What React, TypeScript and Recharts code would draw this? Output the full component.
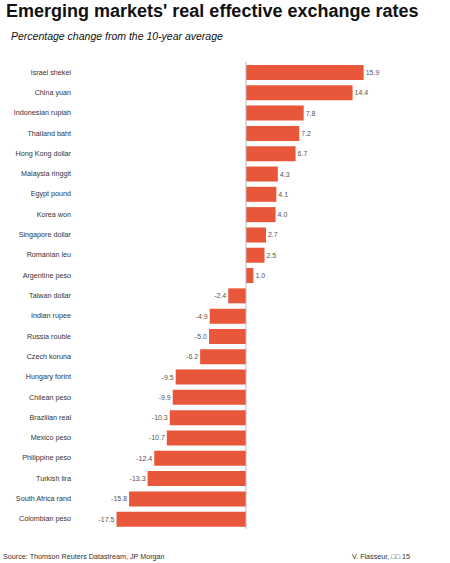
// Emerging markets' real effective exchange rates, horizontal bar chart

import { BarChart, Bar, XAxis, YAxis, ReferenceLine, LabelList } from 'recharts';

const CURRENCIES = [
  'Israel shekel',
  'China yuan',
  'Indonesian rupiah',
  'Thailand baht',
  'Hong Kong dollar',
  'Malaysia ringgit',
  'Egypt pound',
  'Korea won',
  'Singapore dollar',
  'Romanian leu',
  'Argentine peso',
  'Taiwan dollar',
  'Indian rupee',
  'Russia rouble',
  'Czech koruna',
  'Hungary forint',
  'Chilean peso',
  'Brazilian real',
  'Mexico peso',
  'Philippine peso',
  'Turkish lira',
  'South Africa rand',
  'Colombian peso',
];
const CHANGES = [
  15.9, 14.4, 7.8, 7.2, 6.7, 4.3, 4.1, 4.0, 2.7, 2.5, 1.0, -2.4, -4.9, -5.0, -6.2, -9.5, -9.9, -10.3, -10.7, -12.4,
  -13.3, -15.8, -17.5,
];

const BAR = '#e8573a';
const FONT = '"Liberation Sans", Arial, sans-serif';

const data = CURRENCIES.map((name, i) => ({ name, value: CHANGES[i] }));

function CategoryTick({ y, payload }: any) {
  return (
    <text x={71} y={y} textAnchor="end" dominantBaseline="central" fontSize={7.2} fill="#333" fontFamily={FONT}>
      {payload.value}
    </text>
  );
}

function ValueLabel({ x, y, width, height, value }: any) {
  const left = Math.min(x, x + width);
  const right = Math.max(x, x + width);
  const neg = value < 0;
  return (
    <text
      x={neg ? left - 2 : right + 2}
      y={y + height / 2}
      textAnchor={neg ? 'end' : 'start'}
      dominantBaseline="central"
      fontSize={7}
      fill="#555"
      fontFamily={FONT}
    >
      {Number(value).toFixed(1)}
    </text>
  );
}

export default function App() {
  return (
    <div style={{ position: 'fixed', top: 0, left: 0, width: 450, height: 563, background: '#fff', fontFamily: FONT }}>
      <div style={{ position: 'absolute', left: 6, top: 1, fontSize: 18, fontWeight: 'bold', color: '#111', whiteSpace: 'nowrap' }}>
        Emerging markets' real effective exchange rates
      </div>
      <div style={{ position: 'absolute', left: 11, top: 30, fontSize: 10.5, fontStyle: 'italic', color: '#111', whiteSpace: 'nowrap' }}>
        Percentage change from the 10-year average
      </div>
      <BarChart
        width={450}
        height={563}
        data={data}
        layout="vertical"
        margin={{ top: 62, right: 56, left: 0, bottom: 34 }}
      >
        <XAxis type="number" domain={[-20, 20]} hide />
        <YAxis type="category" dataKey="name" width={98} axisLine={false} tickLine={false} tick={<CategoryTick />} interval={0} />
        <Bar dataKey="value" fill={BAR} barSize={15} isAnimationActive={false}>
          <LabelList dataKey="value" content={<ValueLabel />} />
        </Bar>
        <ReferenceLine x={0} stroke="#bbb" strokeWidth={1} />
      </BarChart>
      <div style={{ position: 'absolute', left: 3, top: 552, fontSize: 7.2, color: '#333', whiteSpace: 'nowrap' }}>
        Source: Thomson Reuters Datastream, JP Morgan
      </div>
      <div style={{ position: 'absolute', left: 352, top: 552, fontSize: 7.2, color: '#333', whiteSpace: 'nowrap' }}>
        V. Flasseur, □□ 15
      </div>
    </div>
  );
}
